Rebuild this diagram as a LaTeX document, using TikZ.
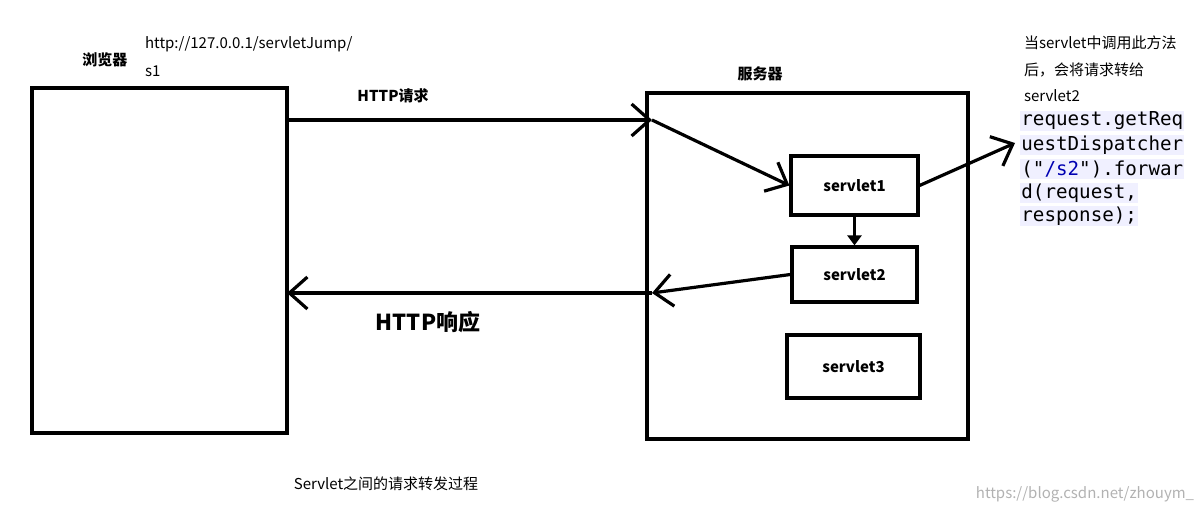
\documentclass[tikz,border=0pt]{standalone}
\usepackage{fontspec}
\setmainfont{Noto Sans CJK SC}
\setmonofont{DejaVu Sans Mono}
\usetikzlibrary{arrows.meta}
\begin{document}
\begin{tikzpicture}[x=0.5pt,y=-0.5pt,
  box/.style={draw,line width=1.6pt},
  lbl/.style={font=\fontsize{7.5}{9}\selectfont},
  blbl/.style={font=\fontsize{7.5}{9}\selectfont\bfseries},
  con/.style={line width=1.6pt,-{Straight Barb[length=9pt,width=16pt,line width=1.6pt]}},
  code/.style={font=\fontsize{9.6}{12}\ttfamily,anchor=west,fill=blue!6,inner sep=0.5pt}]
\useasboundingbox (0,0) rectangle (1196,513);
\draw[box] (32,88) rectangle (287,433);
\draw[box] (647,93) rectangle (968,439);
\node[box,minimum width=63.5pt,minimum height=29.5pt,blbl] (s1) at (854.5,185.5) {servlet1};
\node[box,minimum width=62.5pt,minimum height=27.5pt,blbl] (s2) at (854.5,274.5) {servlet2};
\node[box,minimum width=66.5pt,minimum height=31.5pt,blbl] (s3) at (853.5,366.5) {servlet3};
\node[blbl] (b) at (105,60) {浏览器};
\node[lbl,anchor=west] (u1) at (138,44) {http://127.0.0.1/servletJump/};
\node[lbl,anchor=west] (u2) at (138,71) {s1};
\node[blbl] (srv) at (760,74) {服务器};
\node[blbl] (req) at (393,96) {HTTP请求};
\node[font=\fontsize{11}{13}\selectfont\bfseries] (resp) at (428,322) {HTTP响应};
\coordinate (a0) at (287,120); \coordinate (a1) at (652,120);
\coordinate (c0) at (1015,143);
\coordinate (r0) at (652,293); \coordinate (r1) at (287,293);
\draw[con] (a0) -- (a1);
\draw[con] (a1) -- (s1.west);
\draw[line width=1.6pt,-{Triangle[length=5pt,width=7pt]}] (s1.south) -- (s2.north);
\draw[con] (s1.east) -- (c0);
\draw[con] (s2.west) -- (r0);
\draw[con] (r0) -- (r1);
\node[lbl,anchor=west] (t1) at (1017,43) {当servlet中调用此方法};
\node[lbl,anchor=west] (t2) at (1017,70) {后，会将请求转给};
\node[lbl,anchor=west] (t3) at (1017,96) {servlet2};
\node[code] (k1) at (1020,121) {request.getReq};
\node[code] (k2) at (1020,145) {uestDispatcher};
\node[code] (k3) at (1020,169) {("\textcolor{blue!70!black}{/s2}").forwar};
\node[code] (k4) at (1020,193) {d(request,};
\node[code] (k5) at (1020,216) {response);};
\node[lbl] (cap) at (386,484) {Servlet之间的请求转发过程};
\node[lbl,text=gray!60] (wm) at (1085,494) {https://blog.csdn.net/zhouym\_};
\end{tikzpicture}
\end{document}
